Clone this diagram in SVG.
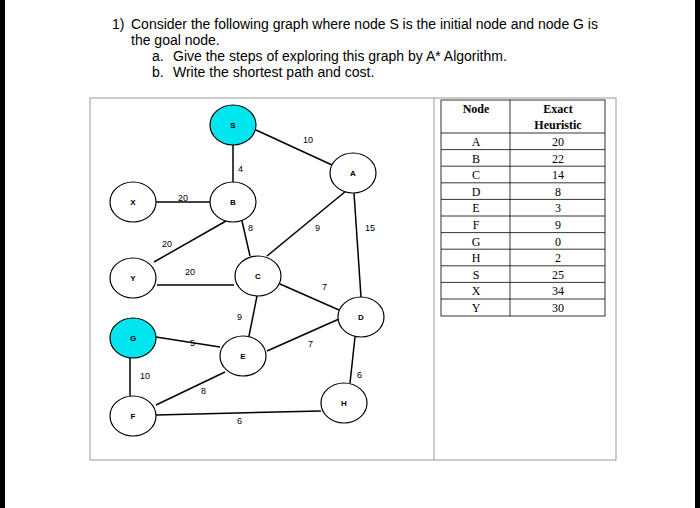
<svg xmlns="http://www.w3.org/2000/svg" width="700" height="508" viewBox="0 0 700 508">
<style>
.t{font-family:"Liberation Sans",Arial,sans-serif;font-size:14px;fill:#000}
.n ellipse{fill:#fff;stroke:#000;stroke-width:1.2}
.n.c ellipse{fill:#00e5ee}
.n text{font-family:"Liberation Sans",Arial,sans-serif;font-size:8px;font-weight:bold;text-anchor:middle}
.e line{stroke:#000;stroke-width:1.5}
.w{font-family:"Liberation Sans",Arial,sans-serif;font-size:9px;fill:#000}
.tb{font-family:"Liberation Serif","Times New Roman",serif;font-size:12px;text-anchor:middle}
.tb.h{font-weight:bold}
.g line{stroke:#000;stroke-width:0.8}
</style>
<rect width="700" height="508" fill="#fff"/>
<rect x="0" y="0" width="5" height="508" fill="#000"/>
<rect x="695" y="0" width="5" height="508" fill="#000"/>
<text class="t" x="112" y="29">1)</text>
<text class="t" x="131" y="29">Consider the following graph where node S is the initial node and node G is</text>
<text class="t" x="131" y="45">the goal node.</text>
<text class="t" x="152" y="61">a.</text>
<text class="t" x="173" y="61">Give the steps of exploring this graph by A* Algorithm.</text>
<text class="t" x="152" y="77">b.</text>
<text class="t" x="173" y="77">Write the shortest path and cost.</text>
<rect x="90" y="98" width="526" height="362" fill="none" stroke="#999" stroke-width="1"/>
<line x1="434" y1="98" x2="434" y2="460" stroke="#999"/>
<g id="connectors" class="e">
<line x1="233" y1="145" x2="233" y2="182"/>
<line x1="256" y1="130" x2="332" y2="165"/>
<line x1="156" y1="202" x2="210" y2="202"/>
<line x1="226" y1="221" x2="154" y2="262"/>
<line x1="242" y1="221" x2="250" y2="256"/>
<line x1="346" y1="191" x2="267" y2="256"/>
<line x1="354" y1="193" x2="361" y2="297"/>
<line x1="157" y1="285" x2="234" y2="285"/>
<line x1="280" y1="284" x2="339" y2="310"/>
<line x1="257" y1="296" x2="249" y2="336"/>
<line x1="156" y1="337" x2="220" y2="347"/>
<line x1="267" y1="351" x2="339" y2="319"/>
<line x1="130" y1="358" x2="130" y2="396"/>
<line x1="156" y1="405" x2="225" y2="372"/>
<line x1="156" y1="415" x2="321" y2="411"/>
<line x1="355" y1="337" x2="350" y2="383"/>
</g>
<g class="w">
<text x="303" y="143">10</text>
<text x="238" y="172">4</text>
<text x="178" y="201">20</text>
<text x="248" y="231">8</text>
<text x="315" y="231">9</text>
<text x="365" y="231">15</text>
<text x="162" y="247">20</text>
<text x="185" y="275">20</text>
<text x="322" y="290">7</text>
<text x="237" y="320">9</text>
<text x="190" y="346">5</text>
<text x="308" y="347">7</text>
<text x="140" y="379">10</text>
<text x="201" y="394">8</text>
<text x="357" y="378">6</text>
<text x="237" y="424">6</text>
</g>
<g id="node-S" class="n c"><ellipse cx="233" cy="125" rx="23" ry="20"/><text x="233" y="128">S</text></g>
<g id="node-A" class="n"><ellipse cx="353" cy="173" rx="23" ry="20"/><text x="353" y="176">A</text></g>
<g id="node-X" class="n"><ellipse cx="133" cy="202" rx="23" ry="20"/><text x="133" y="205">X</text></g>
<g id="node-B" class="n"><ellipse cx="233" cy="202" rx="23" ry="20"/><text x="233" y="205">B</text></g>
<g id="node-Y" class="n"><ellipse cx="133" cy="278" rx="23" ry="20"/><text x="133" y="281">Y</text></g>
<g id="node-C" class="n"><ellipse cx="258" cy="276" rx="23" ry="20"/><text x="258" y="279">C</text></g>
<g id="node-D" class="n"><ellipse cx="361" cy="317" rx="23" ry="20"/><text x="361" y="320">D</text></g>
<g id="node-G" class="n c"><ellipse cx="133" cy="338" rx="23" ry="20"/><text x="133" y="341">G</text></g>
<g id="node-E" class="n"><ellipse cx="243" cy="356" rx="23" ry="20"/><text x="243" y="359">E</text></g>
<g id="node-F" class="n"><ellipse cx="133" cy="416" rx="23" ry="20"/><text x="133" y="419">F</text></g>
<g id="node-H" class="n"><ellipse cx="344" cy="403" rx="23" ry="20"/><text x="344" y="406">H</text></g>
<g id="table">
<g class="g">
<rect x="441" y="100" width="164" height="216" fill="none" stroke="#000" stroke-width="0.8"/>
<line x1="510" y1="100" x2="510" y2="316"/>
<line x1="441" y1="133" x2="605" y2="133"/>
<line x1="441" y1="149.6" x2="605" y2="149.6"/>
<line x1="441" y1="166.2" x2="605" y2="166.2"/>
<line x1="441" y1="182.8" x2="605" y2="182.8"/>
<line x1="441" y1="199.4" x2="605" y2="199.4"/>
<line x1="441" y1="216" x2="605" y2="216"/>
<line x1="441" y1="232.6" x2="605" y2="232.6"/>
<line x1="441" y1="249.2" x2="605" y2="249.2"/>
<line x1="441" y1="265.8" x2="605" y2="265.8"/>
<line x1="441" y1="282.4" x2="605" y2="282.4"/>
<line x1="441" y1="299" x2="605" y2="299"/>
</g>
<text class="tb h" x="476" y="113">Node</text>
<text class="tb h" x="558" y="113">Exact</text>
<text class="tb h" x="558" y="129">Heuristic</text>
<g class="tb">
<text x="476" y="146">A</text><text x="558" y="146">20</text>
<text x="476" y="162.6">B</text><text x="558" y="162.6">22</text>
<text x="476" y="179.2">C</text><text x="558" y="179.2">14</text>
<text x="476" y="195.8">D</text><text x="558" y="195.8">8</text>
<text x="476" y="212.4">E</text><text x="558" y="212.4">3</text>
<text x="476" y="229">F</text><text x="558" y="229">9</text>
<text x="476" y="245.6">G</text><text x="558" y="245.6">0</text>
<text x="476" y="262.2">H</text><text x="558" y="262.2">2</text>
<text x="476" y="278.8">S</text><text x="558" y="278.8">25</text>
<text x="476" y="295.4">X</text><text x="558" y="295.4">34</text>
<text x="476" y="312">Y</text><text x="558" y="312">30</text>
</g>
</g>
</svg>
